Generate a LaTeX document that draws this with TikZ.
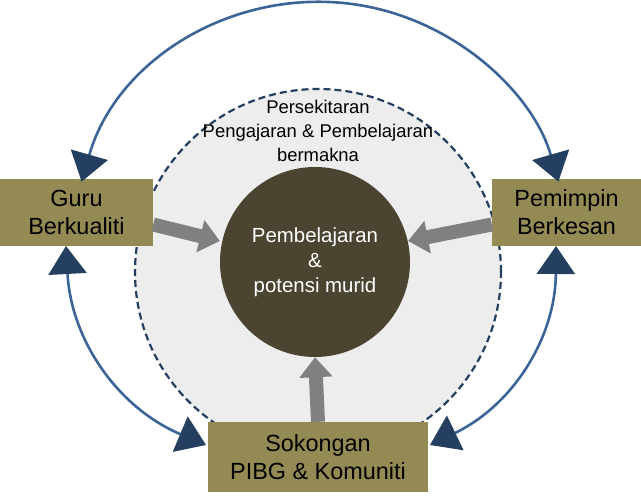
\documentclass[tikz,border=0pt]{standalone}
\usepackage{fontspec}
\setmainfont{Liberation Sans}
\usetikzlibrary{arrows.meta}
\definecolor{boxc}{HTML}{948A54}
\definecolor{innerc}{HTML}{4A4430}
\definecolor{navy}{HTML}{243F60}
\definecolor{arcc}{HTML}{3A6596}
\definecolor{grayc}{HTML}{808080}
\tikzset{
  box/.style={fill=boxc,inner sep=0pt,align=center,font=\fontsize{23.5}{28}\selectfont},
  bigarr/.style={arcc,line width=2.6bp,{Triangle[width=38bp,length=28bp,fill=navy,color=navy]}-{Triangle[width=38bp,length=28bp,fill=navy,color=navy]}},
  grayarr/.style={grayc,line width=14bp,-{Triangle[width=32bp,length=20bp]}}
}
\begin{document}
\begin{tikzpicture}[x=1bp,y=1bp]
\useasboundingbox (0,0) rectangle (641,499);
\coordinate (c) at (320,249);
\node[circle,draw=navy,dashed,dash pattern=on 7bp off 4bp,line width=2.2bp,fill=black!7,minimum size=366bp] (env) at (318,227) {};
\node[align=center,font=\fontsize{18.5}{24}\selectfont] (envt) at (318,368) {Persekitaran\\Pengajaran \& Pembelajaran\\bermakna};
\node[circle,fill=innerc,minimum size=190bp,text=white,align=center,font=\fontsize{20.5}{25}\selectfont] (in) at (315,237) {Pembelajaran\\\&\\potensi murid};
\node[box,minimum width=153bp,minimum height=67bp] (guru) at (76.5,286.5) {Guru\\Berkualiti};
\node[box,minimum width=149bp,minimum height=67bp] (pem) at (566.5,286.5) {Pemimpin\\Berkesan};
\node[box,minimum width=220bp,minimum height=70bp] (sok) at (318,42) {Sokongan\\PIBG \& Komuniti};
\draw[grayarr] (guru.east) ++(0,-12) -- (in.west |- 0,258);
\draw[grayarr] (pem.west) ++(0,-12) -- (408,258);
\draw[grayarr] (sok.north) -- (in.south);
\coordinate (gb) at (66,253);
\coordinate (sl) at (206,54);
\coordinate (pb) at (556,253);
\coordinate (sr) at (430,54);
\draw[bigarr] (c) ++(164:248) arc[start angle=164,end angle=16,radius=248];
\draw[bigarr] (gb) to[bend right=32] (sl);
\draw[bigarr] (pb) to[bend left=32] (sr);
\end{tikzpicture}
\end{document}
